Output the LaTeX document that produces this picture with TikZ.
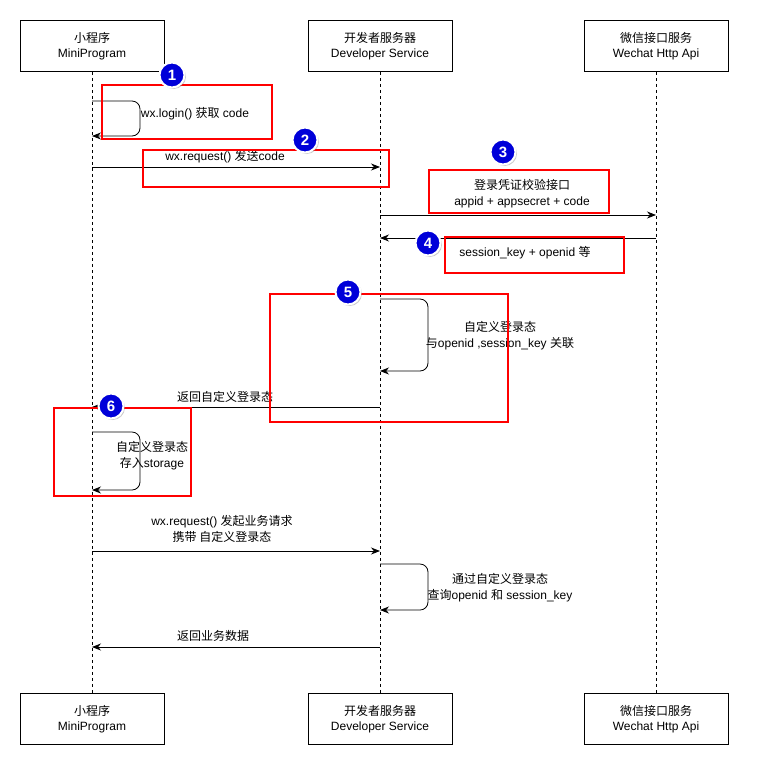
\documentclass[tikz,border=0pt]{standalone}
\usepackage{fontspec}
\setmainfont{Liberation Sans}
\newfontfamily\cjk{Noto Sans CJK SC}
\usetikzlibrary{arrows.meta,shadows}
\tikzset{
  actor/.style={draw,thick,minimum width=144pt,minimum height=51pt,align=center,font=\fontsize{12pt}{15pt}\selectfont,line width=0.8pt},
  life/.style={dashed,line width=0.8pt},
  msg/.style={-{Stealth[length=9pt,width=7pt]},line width=0.8pt},
  lbl/.style={font=\fontsize{12pt}{16pt}\selectfont,align=center,inner sep=1pt},
  redbox/.style={draw=red,line width=2.5pt},
  badge/.style={circle,fill=blue!85!black,draw=white,line width=2pt,text=white,minimum size=25pt,inner sep=0pt,font=\fontsize{15pt}{15pt}\bfseries\selectfont,drop shadow={shadow xshift=1.5pt,shadow yshift=-1.5pt,opacity=0.4}}
}
\begin{document}
\begin{tikzpicture}[x=1pt,y=-1pt]
\useasboundingbox (0,0) rectangle (776,758);

\node [actor] (app) at (92,46) {{\cjk 小程序}\\MiniProgram};
\node [actor] (dev) at (380,46) {{\cjk 开发者服务器}\\Developer Service};
\node [actor] (wx) at (656,46) {{\cjk 微信接口服务}\\Wechat Http Api};
\node [actor] (appB) at (92,719) {{\cjk 小程序}\\MiniProgram};
\node [actor] (devB) at (380,719) {{\cjk 开发者服务器}\\Developer Service};
\node [actor] (wxB) at (656,719) {{\cjk 微信接口服务}\\Wechat Http Api};

\draw [life] (app) -- (appB);
\draw [life] (dev) -- (devB);
\draw [life] (wx) -- (wxB);

% step 1
\coordinate (a1) at (92,101); \coordinate (a1e) at (92,136);
\draw [msg,rounded corners=8pt] (a1) -- (140,101) -- (140,136) -- (a1e);
\node [lbl] (l1) at (195,114) {wx.login() {\cjk 获取} code};
% step 2
\coordinate (a2) at (92,167); \coordinate (d2) at (380,167);
\draw [msg] (a2) -- (d2);
\node [lbl] (l2) at (225,157) {wx.request() {\cjk 发送}code};
% step 3
\coordinate (d3) at (380,215); \coordinate (w3) at (656,215);
\draw [msg] (d3) -- (w3);
\node [lbl,fill=white] (l3) at (522,194) {{\cjk 登录凭证校验接口}\\appid + appsecret + code};
% step 4
\coordinate (w4) at (656,238); \coordinate (d4) at (380,238);
\draw [msg] (w4) -- (d4);
\node [lbl] (l4) at (525,253) {session\_key + openid {\cjk 等}};
% step 5
\coordinate (d5) at (380,299); \coordinate (d5e) at (380,371);
\draw [msg,rounded corners=8pt] (d5) -- (428,299) -- (428,371) -- (d5e);
\node [lbl] (l5) at (500,336) {{\cjk 自定义登录态}\\{\cjk 与}openid ,session\_key {\cjk 关联}};
% return
\coordinate (d6) at (380,407); \coordinate (a6) at (92,407);
\draw [msg] (d6) -- (a6);
\node [lbl] (l6) at (225,397) {\cjk 返回自定义登录态};
% step 6
\coordinate (a7) at (92,432); \coordinate (a7e) at (92,490);
\draw [msg,rounded corners=8pt] (a7) -- (140,432) -- (140,490) -- (a7e);
\node [lbl] (l7) at (152,456) {{\cjk 自定义登录态}\\{\cjk 存入}storage};
% business request
\coordinate (a8) at (92,551); \coordinate (d8) at (380,551);
\draw [msg] (a8) -- (d8);
\node [lbl] (l8) at (222,529) {wx.request() {\cjk 发起业务请求}\\{\cjk 携带 自定义登录态}};
\coordinate (d9) at (380,564); \coordinate (d9e) at (380,610);
\draw [msg,rounded corners=8pt] (d9) -- (428,564) -- (428,610) -- (d9e);
\node [lbl] (l9) at (500,588) {{\cjk 通过自定义登录态}\\{\cjk 查询}openid {\cjk 和} session\_key};
\coordinate (d10) at (380,647); \coordinate (a10) at (92,647);
\draw [msg] (d10) -- (a10);
\node [lbl] (l10) at (213,636) {\cjk 返回业务数据};

% highlight boxes
\draw [redbox] (102,85) rectangle (272,139);
\draw [redbox] (143,150) rectangle (389,187);
\draw [redbox] (429,170) rectangle (609,213);
\draw [redbox] (445,237) rectangle (624,273);
\draw [redbox] (270,294) rectangle (508,422);
\draw [redbox] (54,408) rectangle (191,496);

\node [badge] (b1) at (172,75) {1};
\node [badge] (b2) at (305,140) {2};
\node [badge] (b3) at (503,152) {3};
\node [badge] (b4) at (428,243) {4};
\node [badge] (b5) at (348,292) {5};
\node [badge] (b6) at (111,406) {6};
\end{tikzpicture}
\end{document}
